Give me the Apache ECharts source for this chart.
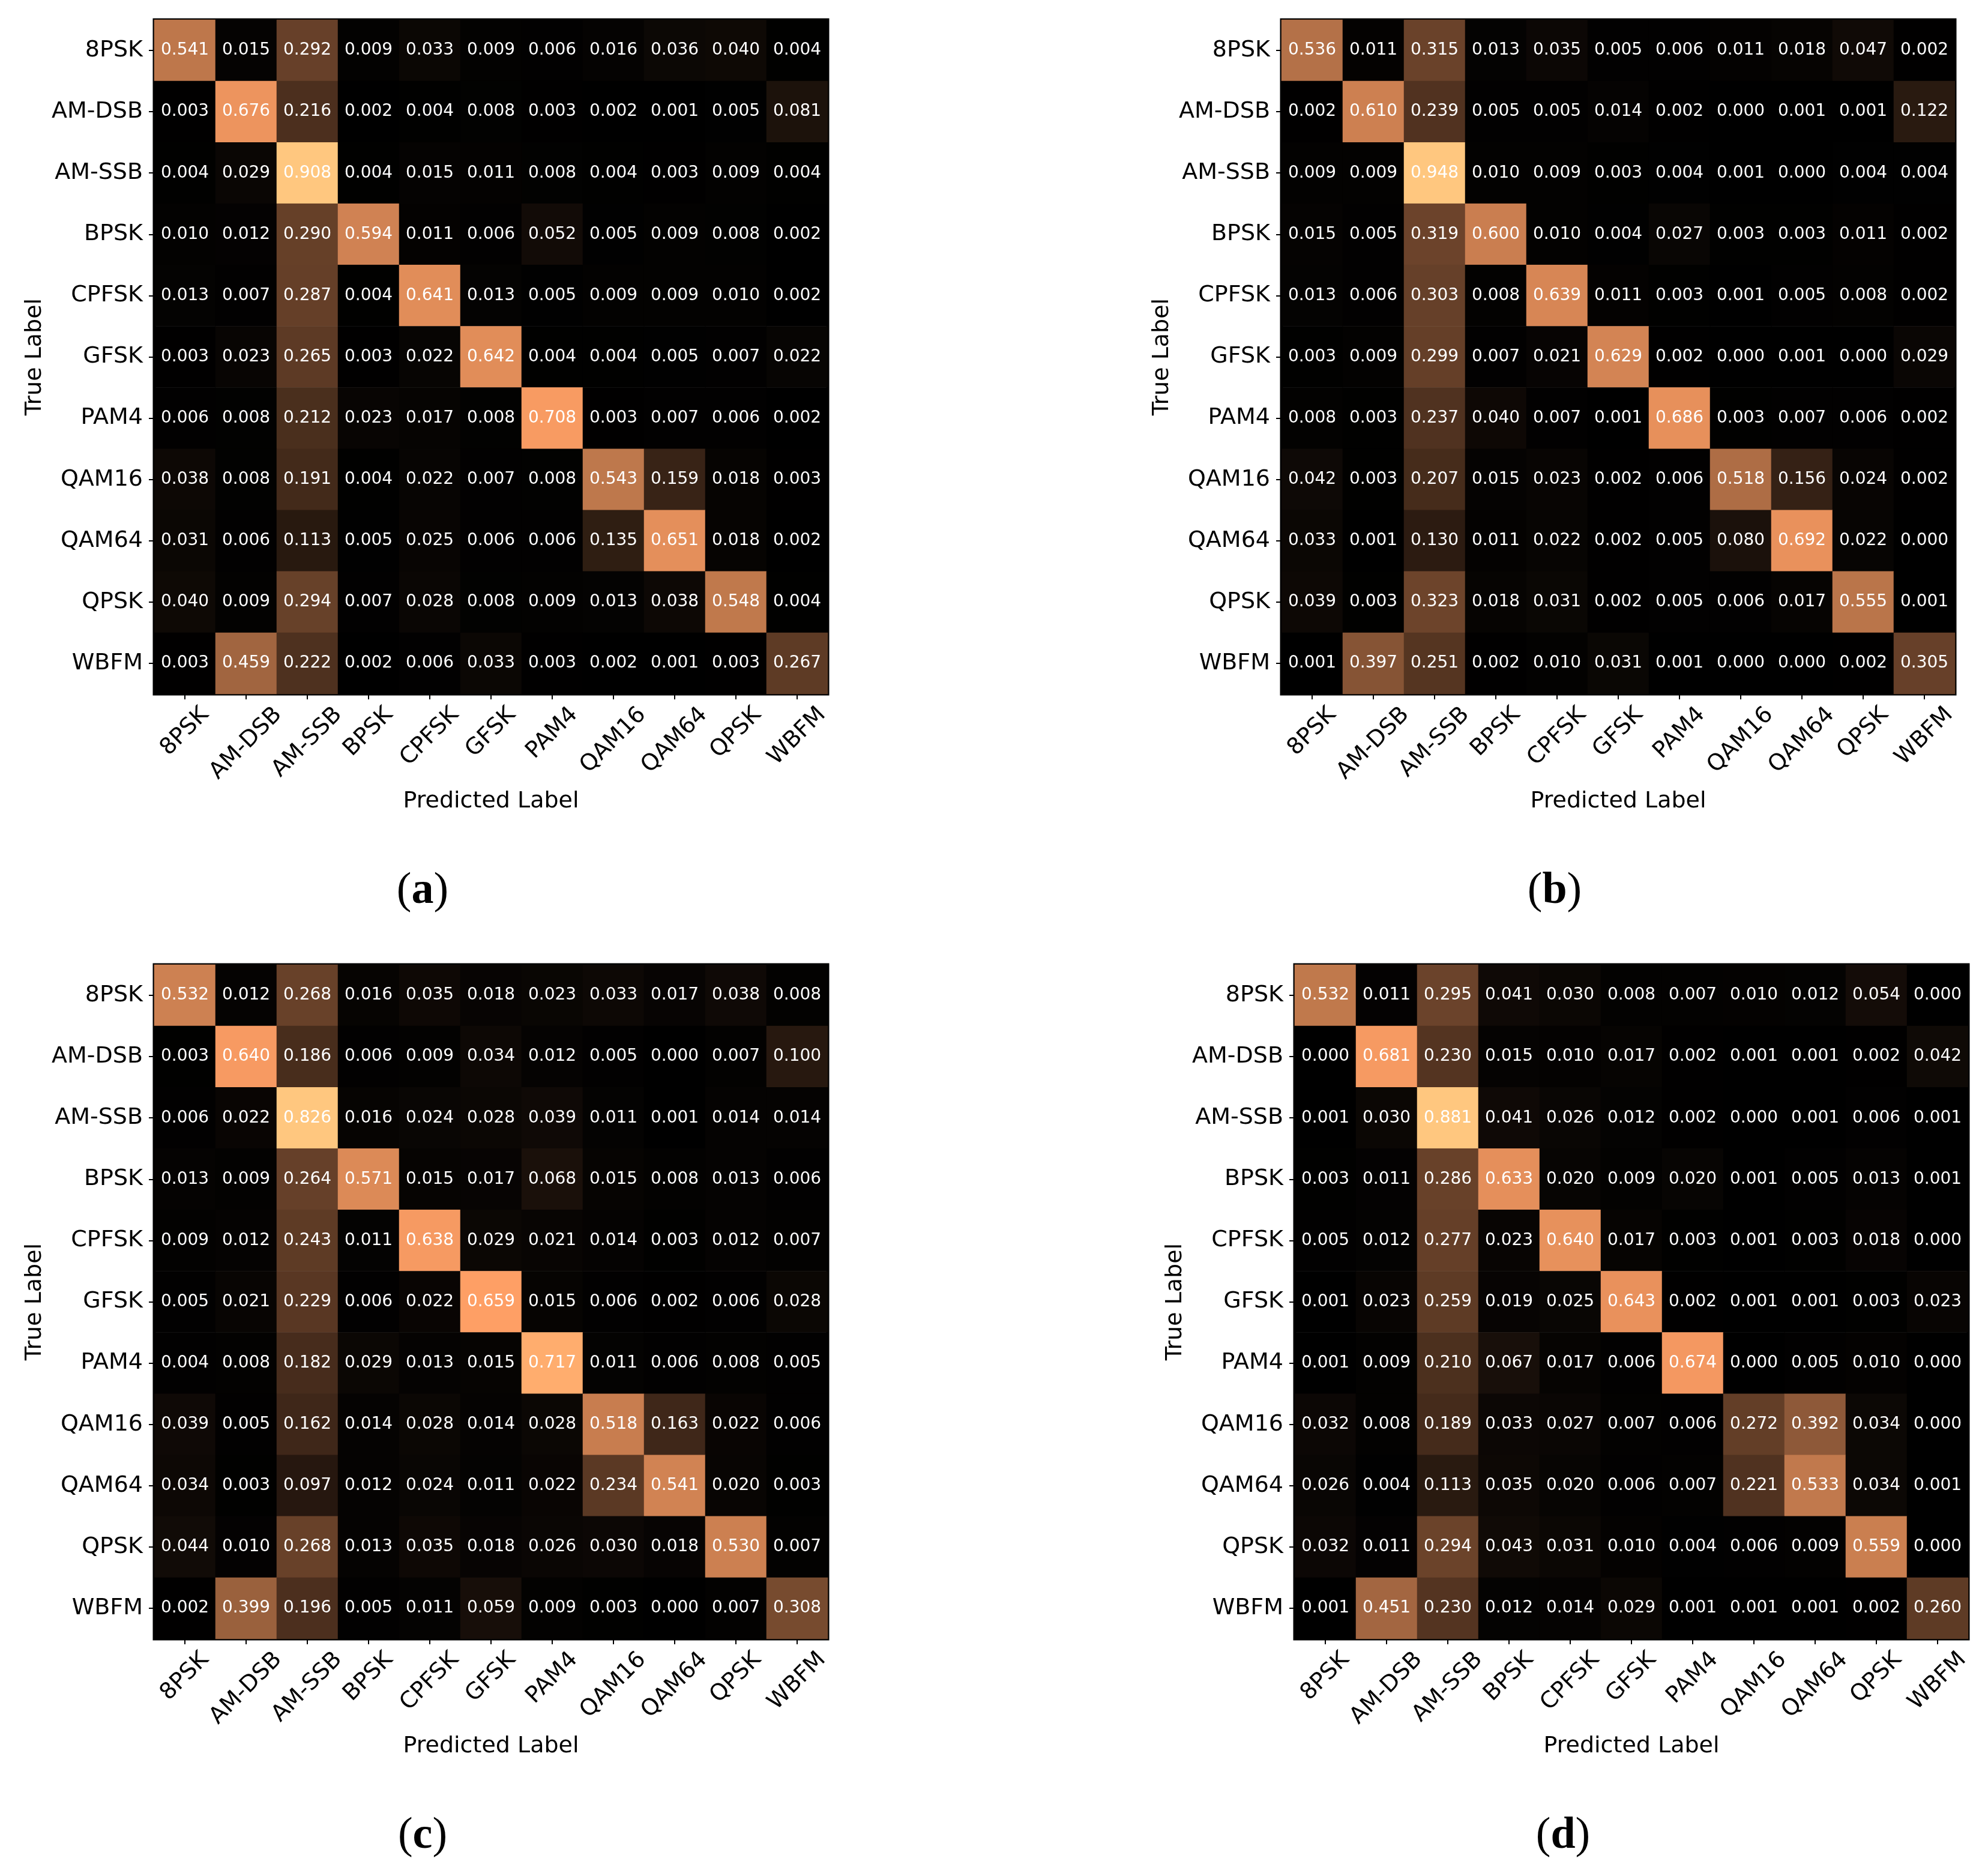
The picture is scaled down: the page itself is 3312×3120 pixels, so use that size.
<!DOCTYPE html>
<html><head><meta charset="utf-8">
<script src="https://cdn.jsdelivr.net/npm/echarts@6/dist/echarts.min.js"></script>
<style>html,body{margin:0;padding:0;background:#fff}#c{width:3312px;height:3120px}</style>
</head><body><div id="c"></div>
<script>
const categories = ['8PSK','AM-DSB','AM-SSB','BPSK','CPFSK','GFSK','PAM4','QAM16','QAM64','QPSK','WBFM'];
const panelLetters = ['a','b','c','d'];
const xAxisTitle = 'Predicted Label';
const yAxisTitle = 'True Label';

const matrixA = [
 [0.541,0.015,0.292,0.009,0.033,0.009,0.006,0.016,0.036,0.040,0.004],
 [0.003,0.676,0.216,0.002,0.004,0.008,0.003,0.002,0.001,0.005,0.081],
 [0.004,0.029,0.908,0.004,0.015,0.011,0.008,0.004,0.003,0.009,0.004],
 [0.010,0.012,0.290,0.594,0.011,0.006,0.052,0.005,0.009,0.008,0.002],
 [0.013,0.007,0.287,0.004,0.641,0.013,0.005,0.009,0.009,0.010,0.002],
 [0.003,0.023,0.265,0.003,0.022,0.642,0.004,0.004,0.005,0.007,0.022],
 [0.006,0.008,0.212,0.023,0.017,0.008,0.708,0.003,0.007,0.006,0.002],
 [0.038,0.008,0.191,0.004,0.022,0.007,0.008,0.543,0.159,0.018,0.003],
 [0.031,0.006,0.113,0.005,0.025,0.006,0.006,0.135,0.651,0.018,0.002],
 [0.040,0.009,0.294,0.007,0.028,0.008,0.009,0.013,0.038,0.548,0.004],
 [0.003,0.459,0.222,0.002,0.006,0.033,0.003,0.002,0.001,0.003,0.267]
];
const matrixB = [
 [0.536,0.011,0.315,0.013,0.035,0.005,0.006,0.011,0.018,0.047,0.002],
 [0.002,0.610,0.239,0.005,0.005,0.014,0.002,0.000,0.001,0.001,0.122],
 [0.009,0.009,0.948,0.010,0.009,0.003,0.004,0.001,0.000,0.004,0.004],
 [0.015,0.005,0.319,0.600,0.010,0.004,0.027,0.003,0.003,0.011,0.002],
 [0.013,0.006,0.303,0.008,0.639,0.011,0.003,0.001,0.005,0.008,0.002],
 [0.003,0.009,0.299,0.007,0.021,0.629,0.002,0.000,0.001,0.000,0.029],
 [0.008,0.003,0.237,0.040,0.007,0.001,0.686,0.003,0.007,0.006,0.002],
 [0.042,0.003,0.207,0.015,0.023,0.002,0.006,0.518,0.156,0.024,0.002],
 [0.033,0.001,0.130,0.011,0.022,0.002,0.005,0.080,0.692,0.022,0.000],
 [0.039,0.003,0.323,0.018,0.031,0.002,0.005,0.006,0.017,0.555,0.001],
 [0.001,0.397,0.251,0.002,0.010,0.031,0.001,0.000,0.000,0.002,0.305]
];
const matrixC = [
 [0.532,0.012,0.268,0.016,0.035,0.018,0.023,0.033,0.017,0.038,0.008],
 [0.003,0.640,0.186,0.006,0.009,0.034,0.012,0.005,0.000,0.007,0.100],
 [0.006,0.022,0.826,0.016,0.024,0.028,0.039,0.011,0.001,0.014,0.014],
 [0.013,0.009,0.264,0.571,0.015,0.017,0.068,0.015,0.008,0.013,0.006],
 [0.009,0.012,0.243,0.011,0.638,0.029,0.021,0.014,0.003,0.012,0.007],
 [0.005,0.021,0.229,0.006,0.022,0.659,0.015,0.006,0.002,0.006,0.028],
 [0.004,0.008,0.182,0.029,0.013,0.015,0.717,0.011,0.006,0.008,0.005],
 [0.039,0.005,0.162,0.014,0.028,0.014,0.028,0.518,0.163,0.022,0.006],
 [0.034,0.003,0.097,0.012,0.024,0.011,0.022,0.234,0.541,0.020,0.003],
 [0.044,0.010,0.268,0.013,0.035,0.018,0.026,0.030,0.018,0.530,0.007],
 [0.002,0.399,0.196,0.005,0.011,0.059,0.009,0.003,0.000,0.007,0.308]
];
const matrixD = [
 [0.532,0.011,0.295,0.041,0.030,0.008,0.007,0.010,0.012,0.054,0.000],
 [0.000,0.681,0.230,0.015,0.010,0.017,0.002,0.001,0.001,0.002,0.042],
 [0.001,0.030,0.881,0.041,0.026,0.012,0.002,0.000,0.001,0.006,0.001],
 [0.003,0.011,0.286,0.633,0.020,0.009,0.020,0.001,0.005,0.013,0.001],
 [0.005,0.012,0.277,0.023,0.640,0.017,0.003,0.001,0.003,0.018,0.000],
 [0.001,0.023,0.259,0.019,0.025,0.643,0.002,0.001,0.001,0.003,0.023],
 [0.001,0.009,0.210,0.067,0.017,0.006,0.674,0.000,0.005,0.010,0.000],
 [0.032,0.008,0.189,0.033,0.027,0.007,0.006,0.272,0.392,0.034,0.000],
 [0.026,0.004,0.113,0.035,0.020,0.006,0.007,0.221,0.533,0.034,0.001],
 [0.032,0.011,0.294,0.043,0.031,0.010,0.004,0.006,0.009,0.559,0.000],
 [0.001,0.451,0.230,0.012,0.014,0.029,0.001,0.001,0.001,0.002,0.260]
];
const matrices = [matrixA, matrixB, matrixC, matrixD];

// layout (pixels)
const panels = [
  {left: 257, top: 33, lx: 704, ly: 1485},
  {left: 2135, top: 33, lx: 2590, ly: 1485},
  {left: 257, top: 1607, lx: 704, ly: 3059},
  {left: 2157, top: 1607, lx: 2604, ly: 3059}
];
const GW = 1122, GH = 1123;
const FONT = 'DejaVu Sans';
const TICK_FS = 38, CELL_FS = 28;

// matplotlib "copper" colormap stops
const copper = [0, 0.2, 0.4, 0.6, 0.8, 1].map(x => {
  const r = Math.round(Math.min(1, 1.25 * x) * 255);
  const g = Math.round(0.7812 * x * 255);
  const b = Math.round(0.4975 * x * 255);
  return `rgb(${r},${g},${b})`;
});

const grid = [], xAxis = [], yAxis = [], series = [], visualMap = [], graphic = [];
matrices.forEach((m, i) => {
  const p = panels[i];
  grid.push({left: p.left, top: p.top, width: GW, height: GH, show: true,
    borderColor: '#000', borderWidth: 5, backgroundColor: 'transparent', containLabel: false});
  xAxis.push({type: 'category', gridIndex: i, data: categories, position: 'bottom',
    name: xAxisTitle, nameLocation: 'middle', nameGap: 160, nameMoveOverlap: false,
    nameTextStyle: {fontFamily: FONT, fontSize: TICK_FS, color: '#000'},
    axisLine: {show: false},
    axisTick: {show: true, alignWithLabel: true, length: 9, lineStyle: {color: '#000', width: 2}},
    axisLabel: {show: false},
    splitLine: {show: false}, splitArea: {show: false}});
  yAxis.push({type: 'category', gridIndex: i, data: categories, inverse: true,
    name: yAxisTitle, nameLocation: 'middle', nameGap: 180, nameMoveOverlap: false,
    nameTextStyle: {fontFamily: FONT, fontSize: TICK_FS, color: '#000'},
    axisLine: {show: false},
    axisTick: {show: true, alignWithLabel: true, length: 9, lineStyle: {color: '#000', width: 2}},
    axisLabel: {interval: 0, margin: 19, fontFamily: FONT, fontSize: TICK_FS, color: '#000'},
    splitLine: {show: false}, splitArea: {show: false}});
  const data = [];
  m.forEach((row, r) => row.forEach((v, c) => data.push([c, r, v])));
  const flat = m.flat();
  visualMap.push({type: 'continuous', show: false, seriesIndex: i, dimension: 2,
    min: Math.min(...flat), max: Math.max(...flat), inRange: {color: copper}});
  series.push({type: 'heatmap', xAxisIndex: i, yAxisIndex: i, data,
    label: {show: true, formatter: d => d.value[2].toFixed(3), color: '#fff',
      fontFamily: FONT, fontSize: CELL_FS},
    emphasis: {disabled: true}, itemStyle: {borderWidth: 0}});
  graphic.push({type: 'text', x: p.lx, y: p.ly, z: 100,
    style: {text: `{p|(}{b|${panelLetters[i]}}{p|)}`, align: 'center', verticalAlign: 'middle',
      rich: {p: {fontFamily: 'Liberation Serif', fontSize: 74, fill: '#000', color: '#000'},
             b: {fontFamily: 'Liberation Serif', fontSize: 74, fontWeight: 'bold', fill: '#000', color: '#000'}}}});
});

const chart = echarts.init(document.getElementById('c'), null, {renderer: 'canvas'});
chart.setOption({animation: false, backgroundColor: '#fff', grid, xAxis, yAxis, visualMap, series, graphic});

// rotated x tick labels, centred under each tick (matplotlib rotation=45, ha='center')
const mctx = document.createElement('canvas').getContext('2d');
mctx.font = TICK_FS + 'px "DejaVu Sans"';
const xLabels = [];
matrices.forEach((m, i) => {
  const axisY = panels[i].top + GH;
  categories.forEach(c => {
    const tx = chart.convertToPixel({xAxisIndex: i}, c);
    const W = mctx.measureText(c).width;
    const d = 20 + 0.354 * (W + 24.7);
    xLabels.push({type: 'text', x: tx, y: axisY + d, rotation: Math.PI / 4, z: 100,
      style: {text: c, fontFamily: FONT, fontSize: TICK_FS, fill: '#000',
        align: 'center', verticalAlign: 'middle'}});
  });
});
chart.setOption({graphic: graphic.concat(xLabels)});
</script></body></html>
